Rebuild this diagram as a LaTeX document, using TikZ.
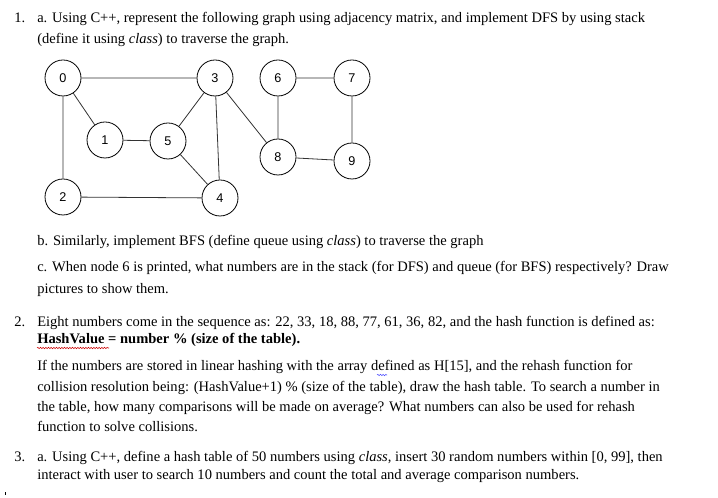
\documentclass[tikz,border=0pt]{standalone}
\usepackage{fontspec}
\setmainfont{Liberation Serif}
\newfontfamily\arialf{Liberation Sans}
\usetikzlibrary{decorations.pathmorphing}
\begin{document}
\begin{tikzpicture}[x=0.75pt,y=-0.75pt,
  vtx/.style={circle,draw,line width=0.6pt,minimum size=27pt,inner sep=0pt,font=\arialf\fontsize{9.5}{11}\selectfont},
  edge/.style={line width=0.6pt,draw=black!80},
  txt/.style={anchor=base west,inner sep=0pt,font=\fontsize{10.9}{12}\selectfont},
  squig/.style={decorate,decoration={snake,amplitude=0.5pt,segment length=2pt},line width=0.4pt}]
\useasboundingbox (0,0) rectangle (718,498);
\fill[white] (0,0) rectangle (718,498);
\node[vtx] (n0) at (63,78) {0};
\node[vtx] (n3) at (215,78) {3};
\node[vtx] (n6) at (278,78) {6};
\node[vtx] (n7) at (352,78) {7};
\node[vtx] (n1) at (105,140) {1};
\node[vtx] (n5) at (168,141) {5};
\node[vtx] (n8) at (278,157) {8};
\node[vtx] (n9) at (352,161) {9};
\node[vtx] (n2) at (63,197) {2};
\node[vtx] (n4) at (220,198) {4};
\draw[edge] (n0)--(n3) (n0)--(n1) (n0)--(n2) (n1)--(n5) (n3)--(n5) (n3)--(n4) (n3)--(n8)
  (n5)--(n4) (n2)--(n4) (n6)--(n7) (n6)--(n8) (n7)--(n9) (n8)--(n9);
\node[txt] (t1) at (14,23) {1.};
\node[txt] (t1a) at (37,23) {a. Using C++, represent the following graph using adjacency matrix, and implement DFS by using stack};
\node[txt] (t1b) at (37,44) {(define it using \textit{class}) to traverse the graph.};
\node[txt] (tb) at (37,246) {b. Similarly, implement BFS (define queue using \textit{class}) to traverse the graph};
\node[txt] (tc1) at (37,272) {c. When node 6 is printed, what numbers are in the stack (for DFS) and queue (for BFS) respectively? Draw};
\node[txt] (tc2) at (37,294) {pictures to show them.};
\node[txt] (t2) at (14,327) {2.};
\node[txt] (t2a) at (37,327) {Eight numbers come in the sequence as: 22, 33, 18, 88, 77, 61, 36, 82, and the hash function is defined as:};
\node[txt] (t2b) at (37,344) {\textbf{HashValue = number \% (size of the table).}};
\draw[squig,red!80!black] (37,348) -- (109,348);
\node[txt] (t2c) at (37,371) {If the numbers are stored in linear hashing with the array defined as H[15], and the rehash function for};
\draw[squig,blue!70] (377,375) -- (387,375);
\node[txt] (t2d) at (37,392) {collision resolution being: (HashValue+1) \% (size of the table), draw the hash table. To search a number in};
\node[txt] (t2e) at (37,412) {the table, how many comparisons will be made on average? What numbers can also be used for rehash};
\node[txt] (t2f) at (37,432) {function to solve collisions.};
\node[txt] (t3) at (14,462) {3.};
\node[txt] (t3a) at (37,462) {a. Using C++, define a hash table of 50 numbers using \textit{class}, insert 30 random numbers within [0, 99], then};
\node[txt] (t3b) at (37,480) {interact with user to search 10 numbers and count the total and average comparison numbers.};
\fill (5,492) rectangle (6,495);
\end{tikzpicture}
\end{document}
